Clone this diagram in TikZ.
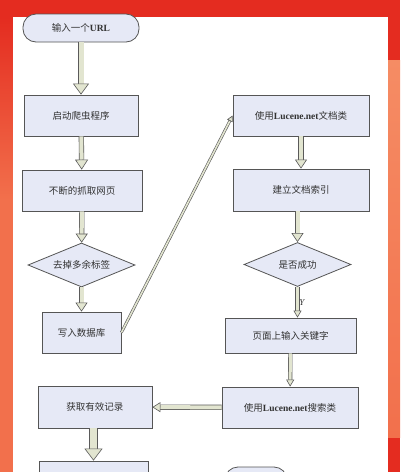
\documentclass[tikz,border=0pt]{standalone}
\usepackage{fontspec}
\setmainfont{Liberation Serif}
\newfontfamily\cjk{Noto Sans CJK SC}
\usetikzlibrary{shapes.geometric,arrows.meta}
\definecolor{boxfill}{RGB}{230,233,246}
\definecolor{boxline}{RGB}{85,85,85}
\definecolor{arrowfill}{RGB}{226,229,208}
\definecolor{arrowline}{RGB}{90,90,90}
\definecolor{bgred}{RGB}{228,44,32}
\definecolor{bgorange}{RGB}{242,112,76}
\definecolor{bglight}{RGB}{245,140,100}
\definecolor{txt}{RGB}{50,50,50}
\newcommand{\lat}[1]{{\rmfamily\bfseries #1}}
\tikzset{
  box/.style={draw=boxline, fill=boxfill, line width=0.8pt, text=txt,
    font=\cjk\fontsize{9.5}{11}\selectfont, inner sep=0pt},
  stepbox/.style={box, rectangle, minimum width=#1},
  test/.style={box, diamond, aspect=2.4, minimum width=107pt, minimum height=44pt},
  terminal/.style={box, rectangle, rounded corners=13pt, minimum height=28pt, minimum width=#1},
  flow/.style n args={3}{draw=arrowline, line width=0.6pt, double=arrowfill,
    double distance=#1, -{Triangle[length=#2, width=#3, fill=arrowfill]}},
}

\begin{document}
\begin{tikzpicture}[x=1pt, y=-1pt]
    \useasboundingbox (0,0) rectangle (400,472);
    \fill[bgred] (0,0) rectangle (400,472);
    \shade[top color=bgred, bottom color=bgorange] (0,17) rectangle (13,200);
    \fill[bgorange] (0,199) rectangle (13,472);
    \shade[top color=bglight, bottom color=bgorange] (388,60) rectangle (400,437);
    \fill[white] (13,17) rectangle (388,472);

    \node[terminal=116pt] (start) at (81,28) {输入一个\lat{URL}};
    \node[stepbox=114pt, minimum height=41pt] (crawl) at (81,115.5) {启动爬虫程序};
    \node[stepbox=120pt, minimum height=41pt] (fetch) at (82,190.5) {不断的抓取网页};
    \node[test] (strip) at (81.5,265) {去掉多余标签};
    \node[stepbox=79pt, minimum height=41pt] (store) at (81.5,332.5) {写入数据库};
    \node[stepbox=136pt, minimum height=41pt] (doc) at (301,115.5) {使用\lat{Lucene.net}文档类};
    \node[stepbox=136pt, minimum height=42pt] (index) at (301,190) {建立文档索引};
    \node[test] (ok) at (297.5,264.5) {是否成功};
    \node[stepbox=131pt, minimum height=35pt] (query) at (290.5,335.5) {页面上输入关键字};
    \node[stepbox=136pt, minimum height=41pt] (search) at (290,407.5) {使用\lat{Lucene.net}搜索类};
    \node[stepbox=114pt, minimum height=42pt] (result) at (95,407) {获取有效记录};
    \node[stepbox=109pt, minimum height=41pt] (show) at (93.5,481.5) {};
    \node[terminal=62pt] (stop) at (256,481) {};

    \draw[flow={5pt}{11pt}{16pt}] (start) -- (crawl);
    \draw[flow={4pt}{10pt}{13pt}] (crawl) -- (fetch);
    \draw[flow={4pt}{9pt}{12pt}] (fetch) -- (strip);
    \draw[flow={4pt}{9pt}{12pt}] (strip) -- (store);
    \draw[flow={1.6pt}{6pt}{6pt}] (store.east) -- (doc.west);
    \draw[flow={4pt}{9pt}{12pt}] (doc) -- (index);
    \draw[flow={4pt}{9pt}{12pt}] (index.south -| ok.north) -- (ok);
    \draw[flow={3pt}{7pt}{8pt}] (ok.south) -- (ok.south |- query.north)
      node[pos=0.5, right, inner sep=1.5pt, text=txt, font=\itshape\fontsize{9}{10}\selectfont] {Y};
    \draw[flow={3pt}{7pt}{8pt}] (query) -- (search);
    \draw[flow={4pt}{8pt}{10pt}] (search) -- (result);
    \draw[flow={7pt}{12pt}{18pt}] (result.south -| show.north) -- (show);
\end{tikzpicture}
\end{document}
